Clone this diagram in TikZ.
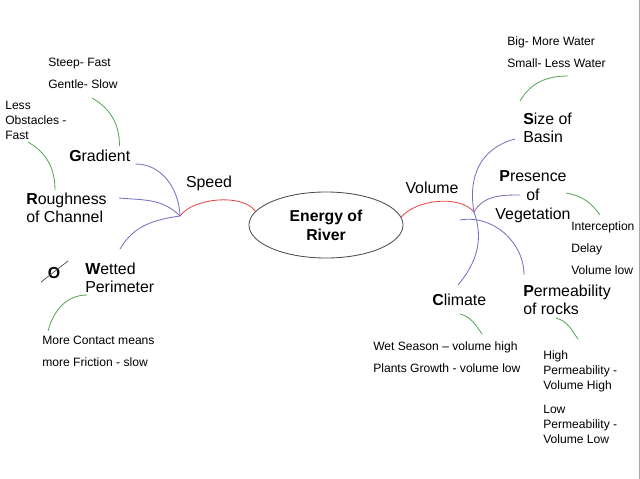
\documentclass[tikz,border=0pt]{standalone}
\usepackage{fontspec}
\setmainfont{Liberation Sans}
\usepackage{tikz}
\usetikzlibrary{shapes.geometric}
\definecolor{riverRed}{HTML}{E84848}
\definecolor{branchBlue}{HTML}{7272C4}
\definecolor{leafGreen}{HTML}{58A858}
\definecolor{edgeGrey}{HTML}{A8A8A8}

\begin{document}
\begin{tikzpicture}[
    x=0.025cm, y=0.025cm,
    every node/.style={inner sep=0pt, text=black},
    centre/.style={draw=black!70, line width=0.6pt, ellipse, minimum width=3.85cm, minimum height=1.65cm,
      align=center, font=\bfseries\fontsize{11.2}{13.5}\selectfont},
    linklabel/.style={font=\fontsize{11.3}{12.8}\selectfont},
    branch/.style={anchor=west, align=left, font=\fontsize{11.3}{12.8}\selectfont},
    note/.style={anchor=west, align=left, font=\fontsize{8.6}{10.6}\selectfont},
    spread/.style={anchor=west, align=left, font=\fontsize{8.6}{15.6}\selectfont},
    mainlink/.style={draw=riverRed, line width=0.6pt},
    sublink/.style={draw=branchBlue, line width=0.6pt},
    leaflink/.style={draw=leafGreen, line width=0.6pt}
  ]
    \useasboundingbox (0,0) rectangle (640,-479);

    \node[centre] (river) at (326,-225) {Energy of\\River};
    \node[linklabel] (speed) at (209,-183) {Speed};
    \node[linklabel] (volume) at (432,-188) {Volume};
    \coordinate (hubL) at (180,-216);
    \coordinate (hubR) at (474,-212);
    \coordinate (permstart) at (460,-220);

    % speed side
    \node[branch] (grad) at (69,-156) {\textbf{G}radient};
    \node[branch] (rough) at (26,-208) {\textbf{R}oughness\\of Channel};
    \node[branch] (wet) at (85,-277.5) {\textbf{W}etted\\Perimeter};
    \node[branch, anchor=center] (nomark) at (54,-273) {\textbf{O}};
    \node[spread] (gradnote) at (48,-73) {Steep- Fast\\Gentle- Slow};
    \node[note] (roughnote) at (5,-120) {Less\\Obstacles -\\Fast};
    \node[spread] (wetnote) at (42,-351.5) {More Contact means\\more Friction - slow};

    % volume side
    \node[spread] (basinnote) at (507,-52) {Big- More Water\\Small- Less Water};
    \node[branch] (basin) at (523,-128) {\textbf{S}ize of\\Basin};
    \node[branch, anchor=center, align=center, font=\fontsize{11.3}{13.5}\selectfont] (veg) at (533,-197) {\textbf{P}resence\\of\\Vegetation};
    \node[spread] (vegnote) at (571,-248) {Interception\\Delay\\Volume low};
    \node[branch] (perm) at (523,-299.5) {\textbf{P}ermeability\\of rocks};
    \node[branch] (climate) at (432,-300) {\textbf{C}limate};
    \node[spread] (climnote) at (373,-357) {Wet Season – volume high\\Plants Growth - volume low};
    \node[note] (permhigh) at (543,-371.5) {High\\Permeability -\\Volume High};
    \node[note] (permlow) at (543,-424) {Low\\Permeability -\\Volume Low};

    \draw[mainlink] (river.169) to[out=125,in=55,looseness=0.75] (hubL);
    \draw[mainlink] (river.6) to[out=50,in=130,looseness=0.8] (hubR);

    \draw[sublink] (hubL) to[out=92,in=0] ([shift={(5,-8)}]grad.east);
    \draw[sublink] (hubL) to[out=135,in=-5] ([shift={(12,10)}]rough.east);
    \draw[sublink] (hubL) to[out=188,in=60] ([shift={(35,28.5)}]wet.west);
    \draw[sublink] (hubR) to[out=100,in=195,looseness=1.1] ([shift={(-8,-11)}]basin.west);
    \draw[sublink] (hubR) to[out=60,in=180] ([shift={(-13,2)}]veg.center);
    \draw[sublink] (hubR) to[out=-70,in=50] ([shift={(26,15)}]climate.west);
    \draw[sublink] (permstart) to[out=10,in=90] ([shift={(1,24.5)}]perm.west);

    \draw[leaflink] ([shift={(-11,10)}]grad.east) to[out=90,in=-30] ([shift={(44,-25)}]gradnote.west);
    \draw[leaflink] ([shift={(29,18)}]rough.west) to[out=90,in=-30] ([shift={(23,-22)}]roughnote.west);
    \draw[leaflink] ([shift={(2,-17.5)}]wet.west) to[out=180,in=75] ([shift={(6,20.5)}]wetnote.west);
    \draw[leaflink] ([shift={(-3,27)}]basin.west) to[out=60,in=180] ([shift={(61,-24)}]basinnote.west);
    \draw[leaflink] ([shift={(33,4)}]veg.center) to[out=-10,in=125] ([shift={(29,33)}]vegnote.west);
    \draw[leaflink] ([shift={(28,-14)}]climate.west) to[out=-15,in=125] ([shift={(109,23)}]climnote.west);
    \draw[leaflink] ([shift={(33,-18.5)}]perm.west) to[out=-15,in=125] ([shift={(35,32.5)}]permhigh.west);

    \draw[black!70, line width=0.5pt] ([shift={(-13,-9)}]nomark.center) -- ([shift={(14,12)}]nomark.center);
    \draw[edgeGrey, line width=0.6pt] (639,0) -- (639,-479);
  \end{tikzpicture}
\end{document}
